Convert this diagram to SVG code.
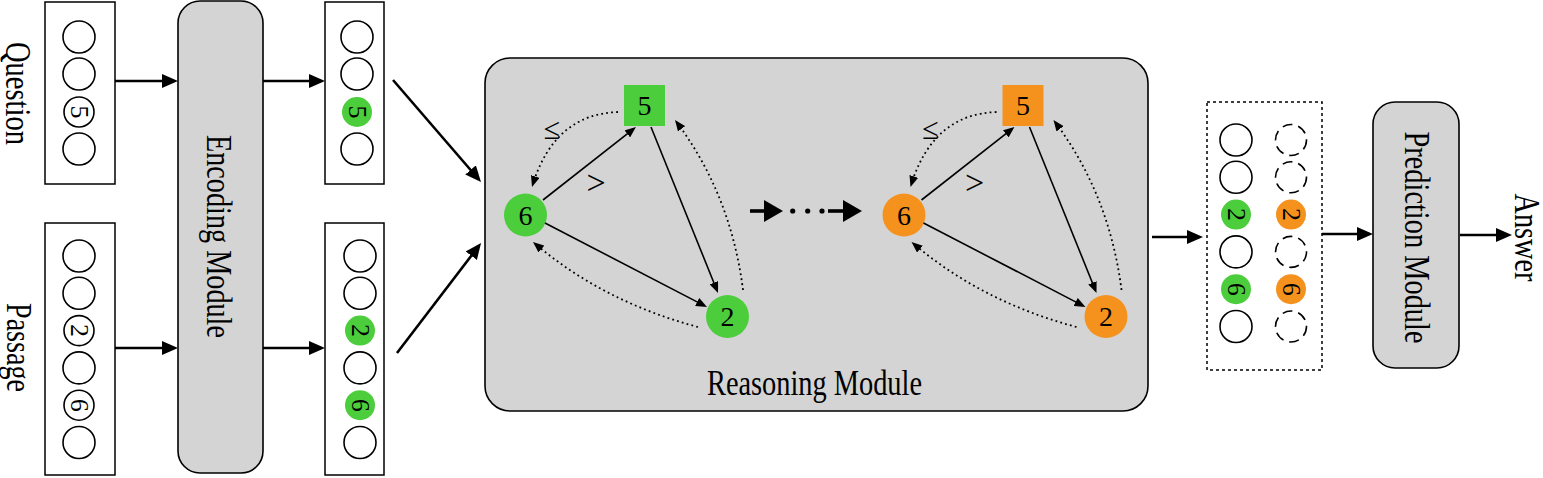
<svg xmlns="http://www.w3.org/2000/svg" width="1543" height="478" viewBox="0 0 1543 478">
<style>
.lbl{font-family:"Liberation Serif","Times New Roman",serif;font-size:35px;fill:#000}
.dig{font-family:"Liberation Serif","Times New Roman",serif;font-size:28px;fill:#000;text-anchor:middle;dominant-baseline:central}
.cd{font-family:"Liberation Serif","Times New Roman",serif;font-size:26px;fill:#000;text-anchor:middle;dominant-baseline:central}
.rel{font-family:"Liberation Serif","Times New Roman",serif;fill:#000;text-anchor:middle;dominant-baseline:central}
.box{fill:#fff;stroke:#000;stroke-width:1.5}
.mod{fill:#d4d4d4;stroke:#000;stroke-width:1.6}
.c{fill:#fff;stroke:#000;stroke-width:1.6}
.dc{fill:none;stroke:#000;stroke-width:1.6;stroke-dasharray:10 6}
.g{fill:#4ccd3c}
.o{fill:#f5921e}
.big{stroke:#000;stroke-width:2.6;fill:none}
.thick{stroke:#000;stroke-width:3.6;fill:none}
.sol{stroke:#000;stroke-width:1.6;fill:none}
.dot{stroke:#000;stroke-width:1.8;fill:none;stroke-dasharray:1.8 3.2}
</style>
<defs>
<marker id="ah" markerUnits="userSpaceOnUse" markerWidth="16" markerHeight="14" refX="12" refY="7" orient="auto"><path d="M0,0 L16,7 L0,14 z" fill="#000"/></marker>
<marker id="ahb" markerUnits="userSpaceOnUse" markerWidth="19" markerHeight="22" refX="15" refY="11" orient="auto"><path d="M0,0 L19,11 L0,22 z" fill="#000"/></marker>
<marker id="as" markerUnits="userSpaceOnUse" markerWidth="11" markerHeight="9" refX="8" refY="4.5" orient="auto"><path d="M0,0 L11,4.5 L0,9 z" fill="#000"/></marker>
</defs>

<g id="question-label"><text class="lbl" transform="translate(6,93.5) rotate(90)" text-anchor="middle" textLength="103" lengthAdjust="spacingAndGlyphs">Question</text></g>
<g id="passage-label"><text class="lbl" transform="translate(7,347.5) rotate(90)" text-anchor="middle" textLength="89" lengthAdjust="spacingAndGlyphs">Passage</text></g>

<g id="question-input">
<rect class="box" x="45" y="2" width="70" height="182"/>
<circle class="c" cx="79" cy="37" r="16"/>
<circle class="c" cx="79" cy="74" r="16"/>
<circle class="c" cx="79" cy="112" r="15"/>
<text class="cd" transform="translate(79,112) rotate(90)">5</text>
<circle class="c" cx="79" cy="149" r="16"/>
</g>

<g id="passage-input">
<rect class="box" x="45" y="223" width="70" height="252"/>
<circle class="c" cx="79" cy="256" r="16"/>
<circle class="c" cx="79" cy="293.3" r="16"/>
<circle class="c" cx="79" cy="330.6" r="15"/>
<text class="cd" transform="translate(79,330.6) rotate(90)">2</text>
<circle class="c" cx="79" cy="367.9" r="16"/>
<circle class="c" cx="79" cy="405.2" r="15"/>
<text class="cd" transform="translate(79,405.2) rotate(90)">6</text>
<circle class="c" cx="79" cy="442.5" r="16"/>
</g>

<g id="encoding-module">
<rect class="mod" x="178" y="1" width="85" height="472" rx="22"/>
<text class="lbl" transform="translate(207,236.5) rotate(90)" text-anchor="middle" textLength="203" lengthAdjust="spacingAndGlyphs">Encoding Module</text>
</g>

<g id="question-encoded">
<rect class="box" x="325" y="2" width="59" height="182"/>
<circle class="c" cx="357" cy="37" r="16"/>
<circle class="c" cx="357" cy="74" r="16"/>
<circle class="g" cx="357" cy="112" r="15"/>
<text class="cd" transform="translate(357,112) rotate(90)">5</text>
<circle class="c" cx="357" cy="149" r="16"/>
</g>

<g id="passage-encoded">
<rect class="box" x="325" y="223" width="59" height="252"/>
<circle class="c" cx="360" cy="256" r="16"/>
<circle class="c" cx="360" cy="293.3" r="16"/>
<circle class="g" cx="360" cy="330.6" r="15"/>
<text class="cd" transform="translate(360,330.6) rotate(90)">2</text>
<circle class="c" cx="360" cy="367.9" r="16"/>
<circle class="g" cx="360" cy="405.2" r="15"/>
<text class="cd" transform="translate(360,405.2) rotate(90)">6</text>
<circle class="c" cx="360" cy="442.5" r="16"/>
</g>

<g id="reasoning-module">
<rect class="mod" x="485" y="58" width="663" height="353" rx="25"/>
<text class="lbl" x="814.5" y="395" text-anchor="middle" textLength="215" lengthAdjust="spacingAndGlyphs">Reasoning Module</text>
</g>

<g id="g-node5"><rect class="g" x="624" y="85" width="41" height="41"/><text class="dig" x="644.5" y="105.5">5</text></g>
<g id="g-node6"><circle class="g" cx="525.5" cy="215" r="21.5"/><text class="dig" x="525.5" y="215">6</text></g>
<g id="g-node2"><circle class="g" cx="727.5" cy="316.5" r="21.5"/><text class="dig" x="727.5" y="316.5">2</text></g>

<g id="o-node5"><rect class="o" x="1002.5" y="85" width="41" height="41"/><text class="dig" x="1023" y="105.5">5</text></g>
<g id="o-node6"><circle class="o" cx="904" cy="215" r="21.5"/><text class="dig" x="904" y="215">6</text></g>
<g id="o-node2"><circle class="o" cx="1106" cy="316.5" r="21.5"/><text class="dig" x="1106" y="316.5">2</text></g>

<g id="output-memory">
<rect x="1207" y="102" width="115" height="268" fill="#fff" stroke="#000" stroke-width="1.5" stroke-dasharray="3 3"/>
<circle class="c" cx="1236" cy="140" r="16"/>
<circle class="c" cx="1236" cy="177.3" r="16"/>
<circle class="g" cx="1236" cy="214.6" r="15"/>
<text class="cd" transform="translate(1236,214.6) rotate(90)">2</text>
<circle class="c" cx="1236" cy="251.9" r="16"/>
<circle class="g" cx="1236" cy="289.2" r="15"/>
<text class="cd" transform="translate(1236,289.2) rotate(90)">6</text>
<circle class="c" cx="1236" cy="326.5" r="16"/>
<circle class="dc" cx="1291" cy="140" r="15.5"/>
<circle class="dc" cx="1291" cy="177.3" r="15.5"/>
<circle class="o" cx="1291" cy="214.6" r="15"/>
<text class="cd" transform="translate(1291,214.6) rotate(90)">2</text>
<circle class="dc" cx="1291" cy="251.9" r="15.5"/>
<circle class="o" cx="1291" cy="289.2" r="15"/>
<text class="cd" transform="translate(1291,289.2) rotate(90)">6</text>
<circle class="dc" cx="1291" cy="326.5" r="15.5"/>
</g>

<g id="prediction-module">
<rect class="mod" x="1373" y="102" width="86" height="266" rx="22"/>
<text class="lbl" transform="translate(1405,237.5) rotate(90)" text-anchor="middle" textLength="212" lengthAdjust="spacingAndGlyphs">Prediction Module</text>
</g>

<g id="answer-label"><text class="lbl" transform="translate(1515,237.5) rotate(90)" text-anchor="middle" textLength="88" lengthAdjust="spacingAndGlyphs">Answer</text></g>

<g id="connectors">
<line class="big" x1="115" y1="81" x2="174" y2="81" marker-end="url(#ah)"/>
<line class="big" x1="115" y1="348" x2="174" y2="348" marker-end="url(#ah)"/>
<line class="big" x1="263" y1="81" x2="321" y2="81" marker-end="url(#ah)"/>
<line class="big" x1="263" y1="348" x2="321" y2="348" marker-end="url(#ah)"/>
<line class="big" x1="393" y1="80" x2="478.4" y2="179" marker-end="url(#ah)"/>
<line class="big" x1="397" y1="353" x2="478.6" y2="246.2" marker-end="url(#ah)"/>
<line class="big" x1="1152" y1="237" x2="1199" y2="237" marker-end="url(#ah)"/>
<line class="big" x1="1322" y1="234" x2="1369" y2="234" marker-end="url(#ah)"/>
<line class="big" x1="1460" y1="235" x2="1508" y2="235" marker-end="url(#ah)"/>

<line class="thick" x1="750" y1="211" x2="779" y2="211" marker-end="url(#ahb)"/>
<circle cx="792.7" cy="211" r="2.6" fill="#000"/>
<circle cx="807.7" cy="211" r="2.6" fill="#000"/>
<circle cx="822" cy="211" r="2.6" fill="#000"/>
<line class="thick" x1="828" y1="211" x2="858" y2="211" marker-end="url(#ahb)"/>

<line class="sol" x1="543" y1="200" x2="633.6" y2="128.9" marker-end="url(#as)"/>
<line class="sol" x1="651" y1="127" x2="716.9" y2="290.2" marker-end="url(#as)"/>
<line class="sol" x1="545" y1="223" x2="704.3" y2="305.6" marker-end="url(#as)"/>
<path class="dot" d="M618,112 Q555,114 532.9,184.1" marker-end="url(#as)"/>
<path class="dot" d="M743,290 Q731,195 676.8,122.4" marker-end="url(#as)"/>
<path class="dot" d="M698,327 Q604,302 535.3,243.9" marker-end="url(#as)"/>

<line class="sol" x1="921.5" y1="200" x2="1012.1" y2="128.9" marker-end="url(#as)"/>
<line class="sol" x1="1029.5" y1="127" x2="1095.4" y2="290.2" marker-end="url(#as)"/>
<line class="sol" x1="923.5" y1="223" x2="1082.8" y2="305.6" marker-end="url(#as)"/>
<path class="dot" d="M996.5,112 Q933.5,114 911.4,184.1" marker-end="url(#as)"/>
<path class="dot" d="M1121.5,290 Q1109.5,195 1055.3,122.4" marker-end="url(#as)"/>
<path class="dot" d="M1076.5,327 Q982.5,302 913.8,243.9" marker-end="url(#as)"/>
</g>

<g id="edge-labels">
<text class="rel" x="552" y="128" font-size="30">≤</text>
<text class="rel" x="596" y="182" font-size="34">&gt;</text>
<text class="rel" x="930.5" y="128" font-size="30">≤</text>
<text class="rel" x="974.5" y="182" font-size="34">&gt;</text>
</g>
</svg>
